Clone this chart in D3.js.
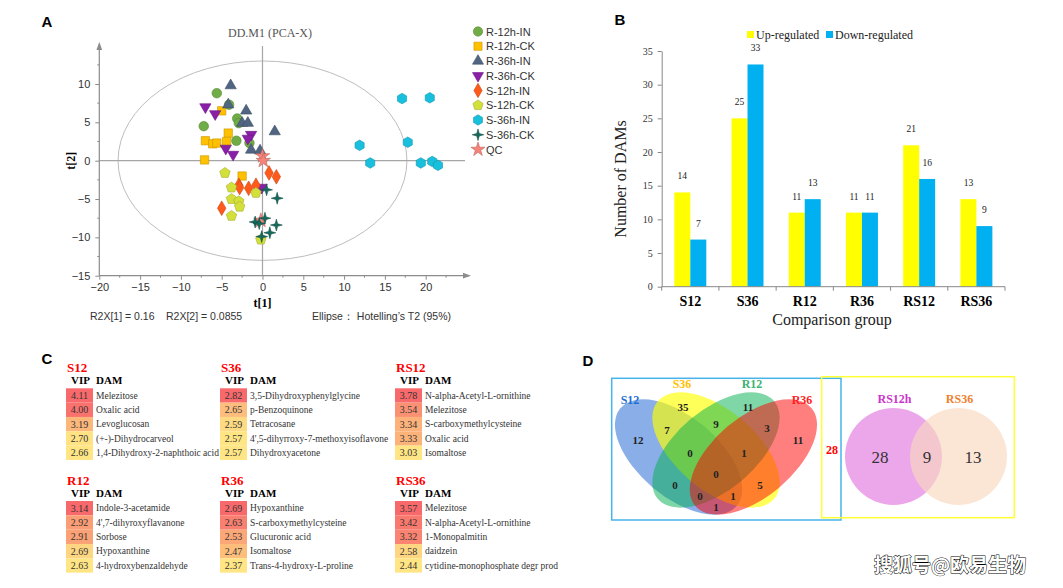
<!DOCTYPE html>
<html>
<head>
<meta charset="utf-8">
<script src="https://cdn.jsdelivr.net/npm/d3@7"></script>
<style>
body { margin: 0; background: #fff; }
svg { display: block; }
</style>
</head>
<body>
<div class="container"></div>
<script>
const WIDTH = 1063;
const HEIGHT = 588;
const SERIF = '"Liberation Serif", "Times New Roman", serif';
const SANS = '"Liberation Sans", Arial, sans-serif';

// ---- panel A : PCA score plot ----
var pcaGroups = ["R-12h-IN", "R-12h-CK", "R-36h-IN", "R-36h-CK", "S-12h-IN", "S-12h-CK", "S-36h-IN", "S-36h-CK", "QC"];
var r12IN = [[-5.6, 8.8], [-4.1, 7.3], [-7.2, 4.5], [-3.1, 5.5], [-2.9, 4.9], [-3.2, 2.6], [-1.6, 2.3]];
var r12CK = [[-5.0, 6.5], [-4.2, 3.6], [-7.0, 2.6], [-6.1, 2.2], [-5.6, 2.3], [-4.4, 2.5], [-7.1, 0.1], [-2.5, -2.0]];
var r36IN = [[-3.9, 9.8], [-4.2, 7.3], [-2.0, 6.5], [-2.5, 4.9], [-1.8, 4.9], [1.5, 3.8], [-1.4, 1.4], [-0.3, 1.3]];
var r36CK = [[-7.0, 7.0], [-5.8, 6.1], [-1.4, 3.4], [-1.8, 2.9], [-4.5, 1.6], [-3.6, 0.8], [-0.1, -3.5]];
var s12IN = [[0.8, -1.6], [1.7, -2.1], [-2.9, -3.2], [-2.8, -3.5], [-1.7, -3.6], [-0.8, -3.2], [-5.0, -6.2]];
var s12CK = [[-4.6, -1.6], [-3.8, -3.5], [-0.8, -4.2], [-3.8, -5.0], [-2.9, -5.3], [-2.8, -6.0], [-3.8, -7.2], [-0.2, -10.3]];
var s36IN = [[17.1, 8.1], [20.5, 8.2], [11.9, 2.0], [17.8, 2.4], [13.2, -0.3], [19.4, -0.3], [20.8, -0.1], [21.5, -0.6]];
var s36CK = [[0.5, -3.8], [1.8, -4.9], [-0.9, -8.0], [-0.4, -8.2], [0.3, -7.5], [1.7, -8.4], [0.9, -9.4], [-0.1, -9.9]];
var qcPoints = [[0.0, 0.6], [0.1, 0.0], [-0.2, -7.8]];
var pcaTicksX = [-20, -15, -10, -5, 0, 5, 10, 15, 20];
var pcaTicksY = [-15, -10, -5, 0, 5, 10];

// ---- panel B : number of DAMs ----
var comparisonGroups = ["S12", "S36", "R12", "R36", "RS12", "RS36"];
var upRegulated = [14, 25, 11, 11, 21, 13];
var downRegulated = [7, 33, 13, 11, 16, 9];
var damTicks = [0, 5, 10, 15, 20, 25, 30, 35];

// ---- panel C : top DAMs by VIP ----
var tableTitles = ["S12", "S36", "RS12", "R12", "R36", "RS36"];
var vipS12 = [4.11, 4.00, 3.19, 2.70, 2.66];
var damS12 = ["Melezitose", "Oxalic acid", "Levoglucosan", "(+-)-Dihydrocarveol", "1,4-Dihydroxy-2-naphthoic acid"];
var vipS36 = [2.82, 2.65, 2.59, 2.57, 2.57];
var damS36 = ["3,5-Dihydroxyphenylglycine", "p-Benzoquinone", "Tetracosane", "4',5-dihyrroxy-7-methoxyisoflavone", "Dihydroxyacetone"];
var vipRS12 = [3.78, 3.54, 3.34, 3.33, 3.03];
var damRS12 = ["N-alpha-Acetyl-L-ornithine", "Melezitose", "S-carboxymethylcysteine", "Oxalic acid", "Isomaltose"];
var vipR12 = [3.14, 2.92, 2.91, 2.69, 2.63];
var damR12 = ["Indole-3-acetamide", "4',7-dihyroxyflavanone", "Sorbose", "Hypoxanthine", "4-hydroxybenzaldehyde"];
var vipR36 = [2.69, 2.63, 2.53, 2.47, 2.37];
var damR36 = ["Hypoxanthine", "S-carboxymethylcysteine", "Glucuronic acid", "Isomaltose", "Trans-4-hydroxy-L-proline"];
var vipRS36 = [3.57, 3.42, 3.32, 2.58, 2.44];
var damRS36 = ["Melezitose", "N-alpha-Acetyl-L-ornithine", "1-Monopalmitin", "daidzein", "cytidine-monophosphate degr prod"];

// ---- panel D : venn diagrams ----
var vennSets = ["S12", "S36", "R12", "R36"];
var vennRegions = ["S12", "S36", "R12", "R36", "S12&S36", "S12&R12", "S12&R36", "S36&R12", "S36&R36", "R12&R36",
    "S12&S36&R12", "S12&S36&R36", "S12&R12&R36", "S36&R12&R36", "all"];
var vennCounts = [12, 35, 11, 11, 7, 0, 1, 9, 5, 3, 0, 1, 0, 1, 0];
var vennOutside = 28;
var rsSets = ["RS12h", "RS36"];
var rsCounts = [28, 9, 13];

var translate = function(x, y) {
    return `translate(${x},${y})`;
};

// custom polygon symbols
var polygonSymbol = function(n, areaFactor, startAngle) {
    return {
        draw: function(context, size) {
            var r = Math.sqrt(size / areaFactor);
            for (var i = 0; i < n; i++) {
                var a = startAngle + i * 2 * Math.PI / n;
                if (i === 0) context.moveTo(r * Math.cos(a), r * Math.sin(a));
                else context.lineTo(r * Math.cos(a), r * Math.sin(a));
            }
            context.closePath();
        }
    };
};
var symbolPentagon = polygonSymbol(5, 2.378, -Math.PI / 2);
var symbolHexagon = polygonSymbol(6, 2.598, -Math.PI / 2);
var symbolSparkle = {
    draw: function(context, size) {
        var r = Math.sqrt(size) * 0.7;
        var ri = r * 0.3;
        for (var i = 0; i < 8; i++) {
            var a = -Math.PI / 2 + i * Math.PI / 4;
            var rr = i % 2 === 0 ? r : ri;
            if (i === 0) context.moveTo(rr * Math.cos(a), rr * Math.sin(a));
            else context.lineTo(rr * Math.cos(a), rr * Math.sin(a));
        }
        context.closePath();
    }
};

// QC is drawn before S-36h-CK so the lower one sits behind the stars
var pcaSeries = [
    { name: pcaGroups[0], data: r12IN, type: d3.symbolCircle, color: "#70ad47", rot: 0, size: 72 },
    { name: pcaGroups[1], data: r12CK, type: d3.symbolSquare, color: "#ffc000", rot: 0, size: 70 },
    { name: pcaGroups[2], data: r36IN, type: d3.symbolTriangle, color: "#4f6582", rot: 0, size: 55 },
    { name: pcaGroups[3], data: r36CK, type: d3.symbolTriangle, color: "#8a1fa8", rot: 180, size: 55 },
    { name: pcaGroups[4], data: s12IN, type: d3.symbolDiamond, color: "#ff5a1a", rot: 0, size: 62 },
    { name: pcaGroups[5], data: s12CK, type: symbolPentagon, color: "#d4e03a", rot: 0, size: 72 },
    { name: pcaGroups[6], data: s36IN, type: symbolHexagon, color: "#19c0de", rot: 0, size: 72 },
    { name: pcaGroups[7], data: s36CK, type: symbolSparkle, color: "#17695a", rot: 0, size: 72 },
    { name: pcaGroups[8], data: qcPoints, type: d3.symbolStar, color: "#f4837a", rot: 0, size: 65 }
];
var drawOrder = [0, 1, 2, 3, 4, 5, 6, 8, 7];

var drawPanelLabel = function(svg, label, x, y) {
    svg.append('text')
        .attr('x', x).attr('y', y)
        .attr('text-anchor', 'middle')
        .style('font-family', SANS)
        .style('font-weight', 'bold')
        .style('font-size', '15px')
        .text(label);
};

var drawPCA = function(svg) {
    let xScale = d3.scaleLinear().domain([-20, 20]).range([99.3, 425.7]);
    let yScale = d3.scaleLinear().domain([-15, 10]).range([275.7, 84]);
    var g = svg.append('g');

    svg.append('defs').append('marker')
        .attr('id', 'arrow')
        .attr('viewBox', '0 0 10 10')
        .attr('refX', 5).attr('refY', 5)
        .attr('markerWidth', 7).attr('markerHeight', 7)
        .attr('orient', 'auto-start-reverse')
        .append('path')
        .attr('d', 'M0,1.5 L10,5 L0,8.5 z')
        .attr('fill', '#8c8c8c');

    g.append('text')
        .attr('x', 270).attr('y', 37)
        .attr('text-anchor', 'middle')
        .style('font-family', SERIF).style('font-size', '12px').attr('fill', '#555')
        .text('DD.M1 (PCA-X)');

    // ellipse: Hotelling's T2
    g.append('ellipse')
        .attr('cx', xScale(0)).attr('cy', yScale(0))
        .attr('rx', xScale(17.7) - xScale(0))
        .attr('ry', yScale(0) - yScale(13))
        .attr('fill', 'none').attr('stroke', '#bdbdbd').attr('stroke-width', 1);

    // zero lines
    g.append('line')
        .attr('x1', xScale(-20)).attr('x2', 465)
        .attr('y1', yScale(0)).attr('y2', yScale(0))
        .attr('stroke', '#a6a6a6').attr('stroke-width', 1.2);
    g.append('line')
        .attr('x1', xScale(0)).attr('x2', xScale(0))
        .attr('y1', 46).attr('y2', yScale(-15))
        .attr('stroke', '#a6a6a6').attr('stroke-width', 1.2);

    // axes
    let xAxis = d3.axisBottom(xScale).tickValues(pcaTicksX).tickSizeInner(4).tickSizeOuter(0).tickPadding(4);
    let yAxis = d3.axisLeft(yScale).tickValues(pcaTicksY).tickSizeInner(4).tickSizeOuter(0).tickPadding(5);
    var gx = g.append('g').attr('transform', translate(0, yScale(-15))).call(xAxis);
    var gy = g.append('g').attr('transform', translate(xScale(-20), 0)).call(yAxis);
    [gx, gy].forEach(function(ax) {
        ax.select('.domain').remove();
        ax.selectAll('line').attr('stroke', '#8c8c8c');
        ax.selectAll('text').style('font-family', SANS).style('font-size', '11px').attr('fill', '#333');
    });
    // minor ticks
    g.selectAll('.minorX').data(d3.range(-17.5, 25, 5)).enter().append('line')
        .attr('x1', d => xScale(d)).attr('x2', d => xScale(d))
        .attr('y1', yScale(-15)).attr('y2', yScale(-15) + 2)
        .attr('stroke', '#8c8c8c');
    g.selectAll('.minorY').data(d3.range(-12.5, 15, 5)).enter().append('line')
        .attr('x1', xScale(-20) - 2).attr('x2', xScale(-20))
        .attr('y1', d => yScale(d)).attr('y2', d => yScale(d))
        .attr('stroke', '#8c8c8c');
    g.append('line')
        .attr('x1', xScale(-20)).attr('x2', 467)
        .attr('y1', yScale(-15)).attr('y2', yScale(-15))
        .attr('stroke', '#8c8c8c').attr('stroke-width', 1.2)
        .attr('marker-end', 'url(#arrow)');
    g.append('line')
        .attr('x1', xScale(-20)).attr('x2', xScale(-20))
        .attr('y1', yScale(-15)).attr('y2', 46)
        .attr('stroke', '#8c8c8c').attr('stroke-width', 1.2)
        .attr('marker-end', 'url(#arrow)');

    g.append('text')
        .attr('x', xScale(0)).attr('y', 307)
        .attr('text-anchor', 'middle')
        .style('font-family', SERIF).style('font-weight', 'bold').style('font-size', '12px')
        .text('t[1]');
    g.append('text')
        .attr('transform', translate(75, yScale(0)) + ' rotate(-90)')
        .attr('text-anchor', 'middle')
        .style('font-family', SERIF).style('font-weight', 'bold').style('font-size', '12px')
        .text('t[2]');

    var foot = [['R2X[1] = 0.16', 90], ['R2X[2] = 0.0855', 166], ['Ellipse\uFF1A Hotelling\u2019s T2 (95%)', 312]];
    g.selectAll('.foot').data(foot).enter().append('text')
        .attr('x', d => d[1]).attr('y', 320)
        .style('font-family', SANS).style('font-size', '10.5px').attr('fill', '#333')
        .text(d => d[0]);

    // points
    drawOrder.forEach(function(k) {
        var s = pcaSeries[k];
        var sym = d3.symbol().type(s.type).size(s.size);
        g.append('g').selectAll('path').data(s.data).enter().append('path')
            .attr('transform', d => translate(xScale(d[0]), yScale(d[1])) + (s.rot ? ' rotate(' + s.rot + ')' : ''))
            .attr('d', sym)
            .attr('fill', s.color)
            .attr('stroke', d3.color(s.color).darker(0.7))
            .attr('stroke-width', 0.6);
    });

    // legend
    var leg = g.append('g').selectAll('g').data(pcaSeries).enter().append('g')
        .attr('transform', (d, i) => translate(478, 31.5 + i * 14.75));
    leg.append('path')
        .attr('d', d => d3.symbol().type(d.type).size(d.size * 0.95)())
        .attr('transform', d => d.rot ? 'rotate(' + d.rot + ')' : null)
        .attr('fill', d => d.color)
        .attr('stroke', d => d3.color(d.color).darker(0.7))
        .attr('stroke-width', 0.6);
    leg.append('text')
        .attr('x', 8).attr('y', 4)
        .style('font-family', SANS).style('font-size', '11px').attr('fill', '#333')
        .text(d => d.name);
};

var drawBars = function(svg) {
    let xScale = d3.scaleBand().domain(comparisonGroups).range([661.7, 1005]);
    let subScale = d3.scaleBand().domain(['up', 'down']).range([0, xScale.bandwidth()]).paddingOuter(0.79);
    let yScale = d3.scaleLinear().domain([0, 35]).range([286.7, 51]);
    var g = svg.append('g');
    var colors = { up: '#ffff00', down: '#00b0f0' };
    var rows = comparisonGroups.map((c, i) => ({ group: c, up: upRegulated[i], down: downRegulated[i] }));

    let yAxis = d3.axisLeft(yScale).tickValues(damTicks).tickSizeInner(4).tickSizeOuter(0).tickPadding(5);
    var gy = g.append('g').attr('transform', translate(661.7, 0)).call(yAxis);
    gy.select('.domain').attr('stroke', '#888');
    gy.selectAll('line').attr('stroke', '#888');
    gy.selectAll('text').style('font-family', SERIF).style('font-size', '10px').attr('fill', '#333');

    var groups = g.selectAll('.grp').data(rows).enter().append('g')
        .attr('transform', d => translate(xScale(d.group), 0));
    ['up', 'down'].forEach(function(k) {
        groups.append('rect')
            .attr('x', subScale(k)).attr('width', subScale.bandwidth())
            .attr('y', d => yScale(d[k])).attr('height', d => yScale(0) - yScale(d[k]))
            .attr('fill', colors[k]);
        groups.append('text')
            .attr('x', subScale(k) + subScale.bandwidth() / 2)
            .attr('y', d => yScale(d[k]) - 13)
            .attr('text-anchor', 'middle')
            .style('font-family', SERIF).style('font-size', '9.5px').attr('fill', '#222')
            .text(d => d[k]);
    });

    // x axis
    g.append('line')
        .attr('x1', 661.7).attr('x2', 1005).attr('y1', yScale(0)).attr('y2', yScale(0))
        .attr('stroke', '#888');
    var boundaries = comparisonGroups.map(c => xScale(c)).concat([xScale.range()[1]]);
    g.selectAll('.xt').data(boundaries).enter().append('line')
        .attr('x1', d => d).attr('x2', d => d)
        .attr('y1', yScale(0)).attr('y2', yScale(0) + 4)
        .attr('stroke', '#888');
    g.selectAll('.xl').data(comparisonGroups).enter().append('text')
        .attr('x', d => xScale(d) + xScale.bandwidth() / 2).attr('y', 306)
        .attr('text-anchor', 'middle')
        .style('font-family', SERIF).style('font-weight', 'bold').style('font-size', '14px')
        .text(d => d);

    g.append('text')
        .attr('x', 832).attr('y', 325)
        .attr('text-anchor', 'middle')
        .style('font-family', SERIF).style('font-size', '16px').attr('fill', '#222')
        .text('Comparison group');
    g.append('text')
        .attr('transform', translate(626, 179) + ' rotate(-90)')
        .attr('text-anchor', 'middle')
        .style('font-family', SERIF).style('font-size', '16px').attr('fill', '#222')
        .text('Number of DAMs');

    var legend = [['Up-regulated', 'up', 747], ['Down-regulated', 'down', 826]];
    var lg = g.selectAll('.lg').data(legend).enter().append('g');
    lg.append('rect')
        .attr('x', d => d[2]).attr('y', 31).attr('width', 7).attr('height', 7)
        .attr('fill', d => colors[d[1]]);
    lg.append('text')
        .attr('x', d => d[2] + 9).attr('y', 39)
        .style('font-family', SERIF).style('font-size', '12px').attr('fill', '#222')
        .text(d => d[0]);
};

var drawTable = function(svg, x, top, title, vips, dams) {
    var g = svg.append('g').attr('transform', translate(x, top));
    var rowH = 14.33, cellW = 27;
    let color = d3.scaleLinear()
        .domain([d3.min(vips), d3.max(vips)])
        .range(['#ffe584', '#f8696b'])
        .interpolate(d3.interpolateRgb);
    g.append('text')
        .attr('x', 1).attr('y', -16)
        .style('font-family', SERIF).style('font-weight', 'bold').style('font-size', '13px')
        .attr('fill', '#ff0000')
        .text(title);
    g.append('text')
        .attr('x', 5).attr('y', -4)
        .style('font-family', SERIF).style('font-weight', 'bold').style('font-size', '11px')
        .text('VIP');
    g.append('text')
        .attr('x', cellW + 3).attr('y', -4)
        .style('font-family', SERIF).style('font-weight', 'bold').style('font-size', '11px')
        .text('DAM');
    var rows = g.selectAll('.row').data(vips).enter().append('g')
        .attr('transform', (d, i) => translate(0, i * rowH));
    rows.append('rect')
        .attr('width', cellW).attr('height', rowH)
        .attr('fill', d => color(d));
    rows.append('text')
        .attr('x', cellW / 2).attr('y', rowH / 2 + 3.5)
        .attr('text-anchor', 'middle')
        .style('font-family', SERIF).style('font-size', '10px').attr('fill', '#333')
        .text(d => d.toFixed(2));
    rows.append('text')
        .attr('x', cellW + 3).attr('y', rowH / 2 + 3.3)
        .style('font-family', SERIF).style('font-size', '9.5px').attr('fill', '#333')
        .text((d, i) => dams[i]);
};

var drawVenn = function(svg) {
    var g = svg.append('g');
    // frames
    g.append('rect')
        .attr('x', 611.7).attr('y', 378.3).attr('width', 229.3).attr('height', 141.7)
        .attr('fill', 'none').attr('stroke', '#45b4ea').attr('stroke-width', 1.5);

    var cx = 716, cyIn = 450, dx = 37.4, cyOut = 457, rx = 76, ry = 40, ang = 40;
    var ellipses = [
        { set: vennSets[0], x: cx - dx, y: cyOut, rot: ang, fill: '#3c78d8', op: 0.6, label: '#1f6fd0', lx: 630, ly: 404 },
        { set: vennSets[1], x: cx, y: cyIn, rot: ang, fill: '#ffff00', op: 0.65, label: '#ffc000', lx: 682, ly: 388 },
        { set: vennSets[2], x: cx, y: cyIn, rot: -ang, fill: '#00b050', op: 0.5, label: '#3cb371', lx: 752, ly: 388 },
        { set: vennSets[3], x: cx + dx, y: cyOut, rot: -ang, fill: '#ff0000', op: 0.5, label: '#ff2020', lx: 802, ly: 404 }
    ];
    g.selectAll('.ell').data(ellipses).enter().append('ellipse')
        .attr('transform', d => translate(d.x, d.y) + ' rotate(' + d.rot + ')')
        .attr('rx', rx).attr('ry', ry)
        .attr('fill', d => d.fill).attr('fill-opacity', d => d.op);
    g.selectAll('.ellLabel').data(ellipses).enter().append('text')
        .attr('x', d => d.lx).attr('y', d => d.ly)
        .attr('text-anchor', 'middle')
        .style('font-family', SERIF).style('font-weight', 'bold').style('font-size', '12px')
        .attr('fill', d => d.label)
        .text(d => d.set);

    var labelPos = [[638, 440], [683, 407], [748, 407], [798, 440], [667, 430], [675, 485], [716, 507], [716, 424], [760, 485], [767, 428],
        [690, 453], [733, 496], [700, 496], [744, 453], [716, 474]];
    g.selectAll('.cnt').data(vennCounts).enter().append('text')
        .attr('x', (d, i) => labelPos[i][0]).attr('y', (d, i) => labelPos[i][1] + 4)
        .attr('text-anchor', 'middle')
        .style('font-family', SERIF).style('font-weight', 'bold').style('font-size', '11px')
        .attr('fill', '#222')
        .text(d => d);

    g.append('text')
        .attr('x', 832).attr('y', 453.5)
        .attr('text-anchor', 'middle')
        .style('font-family', SERIF).style('font-weight', 'bold').style('font-size', '12px')
        .attr('fill', '#ff0000')
        .text(vennOutside);

    // two-set venn
    var circles = [
        { set: rsSets[0], x: 893.5, fill: '#e58ae3', op: 0.75, label: '#cc33cc' },
        { set: rsSets[1], x: 958.5, fill: '#f9d8c0', op: 0.65, label: '#f07f2d' }
    ];
    g.selectAll('.circ').data(circles).enter().append('circle')
        .attr('cx', d => d.x).attr('cy', 456.5).attr('r', 48.5)
        .attr('fill', d => d.fill).attr('fill-opacity', d => d.op);
    g.selectAll('.circLabel').data(circles).enter().append('text')
        .attr('x', d => d.x + 1).attr('y', 402.5)
        .attr('text-anchor', 'middle')
        .style('font-family', SERIF).style('font-weight', 'bold').style('font-size', '12px')
        .attr('fill', d => d.label)
        .text(d => d.set);
    var rsPos = [880, 927, 973];
    g.selectAll('.rsCnt').data(rsCounts).enter().append('text')
        .attr('x', (d, i) => rsPos[i]).attr('y', 463)
        .attr('text-anchor', 'middle')
        .style('font-family', SERIF).style('font-size', '17px').attr('fill', '#333')
        .text(d => d);

    g.append('rect')
        .attr('x', 821.7).attr('y', 376.7).attr('width', 192.6).attr('height', 141)
        .attr('fill', 'none').attr('stroke', '#ffff33').attr('stroke-width', 1.5);
};

var fillLayout = function() {
    var svg = d3.select('.container').append('svg')
        .attr('width', WIDTH)
        .attr('height', HEIGHT);
    svg.append('rect').attr('width', WIDTH).attr('height', HEIGHT).attr('fill', '#fff');

    drawPanelLabel(svg, 'A', 47, 27);
    drawPanelLabel(svg, 'B', 620, 25);
    drawPanelLabel(svg, 'C', 47, 364);
    drawPanelLabel(svg, 'D', 588, 366);

    drawPCA(svg);
    drawBars(svg);

    var tableX = [66, 220, 395];
    var tableTop = [388.3, 501];
    var vipLists = [vipS12, vipS36, vipRS12, vipR12, vipR36, vipRS36];
    var damLists = [damS12, damS36, damRS12, damR12, damR36, damRS36];
    tableTitles.forEach(function(t, i) {
        drawTable(svg, tableX[i % 3], tableTop[Math.floor(i / 3)], t, vipLists[i], damLists[i]);
    });

    drawVenn(svg);

    svg.append('text')
        .attr('x', 950).attr('y', 572)
        .attr('text-anchor', 'middle')
        .style('font-family', '"Noto Sans CJK SC", sans-serif')
        .style('font-weight', 'bold').style('font-size', '19px')
        .attr('fill', '#fff').attr('stroke', '#000').attr('stroke-width', 1.0)
        .style('paint-order', 'stroke')
        .text('搜狐号@欧易生物');
};
window.onload = fillLayout;
</script>
</body>
</html>
